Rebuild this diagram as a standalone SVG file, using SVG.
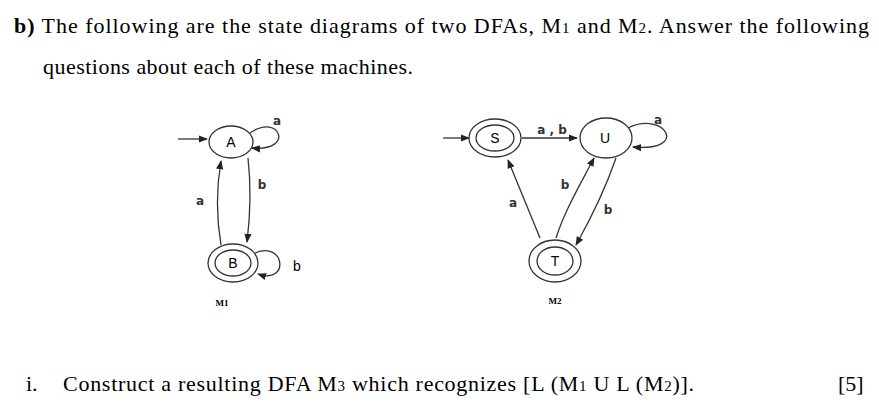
<svg xmlns="http://www.w3.org/2000/svg" width="879" height="410" viewBox="0 0 879 410">
<style>
.t{font-family:"Liberation Serif",serif;font-size:22px;fill:#000}
.s{font-family:"Liberation Sans",sans-serif;font-size:14px;fill:#000}
.l{font-family:"DejaVu Sans",sans-serif;font-size:12px;font-weight:bold;fill:#333}
.st{fill:#fff;stroke:#333;stroke-width:1.3}
.e{fill:none;stroke:#333;stroke-width:1.3;marker-end:url(#ar)}
</style>
<defs><marker id="ar" viewBox="0 0 10 10" refX="9" refY="5" markerWidth="7" markerHeight="7" orient="auto"><path d="M0,1 L10,5 L0,9 z" fill="#222"/></marker></defs>
<rect width="879" height="410" fill="#fff"/>
<text class="t" x="14" y="33" textLength="855" lengthAdjust="spacing"><tspan font-weight="bold">b)</tspan> The following are the state diagrams of two DFAs, M<tspan font-size="15">1</tspan> and M<tspan font-size="15">2</tspan>. Answer the following</text>
<text class="t" x="43" y="74" textLength="370" lengthAdjust="spacing">questions about each of these machines.</text>
<text class="t" x="26" y="391">i.</text>
<text class="t" x="63" y="391" textLength="631" lengthAdjust="spacing">Construct a resulting DFA M<tspan font-size="15">3</tspan> which recognizes [L (M<tspan font-size="15">1</tspan> U L (M<tspan font-size="15">2</tspan>)].</text>
<text class="t" x="838" y="391">[5]</text>
<g id="connectors">
<path class="e" d="M178,139 L207,139"/>
<path class="e" d="M250,133 C280,112 295,152 252,148"/>
<path class="e" d="M248,158 C251,185 251,210 247,242"/>
<path class="e" d="M221,245 C216,215 216,190 221,161"/>
<path class="e" d="M255,253 C285,240 290,285 258,274"/>
<path class="e" d="M443,138 L469,138"/>
<path class="e" d="M522,138 L577,138"/>
<path class="e" d="M628,128 C665,110 690,152 633,147"/>
<path class="e" d="M540,238 L508,160"/>
<path class="e" d="M556,238 C565,210 580,185 594,158"/>
<path class="e" d="M616,158 C605,190 590,220 576,245"/>
</g>
<g id="A"><ellipse class="st" cx="231" cy="142" rx="22" ry="16"/><text class="s" x="231" y="147" text-anchor="middle">A</text></g>
<g id="B"><ellipse class="st" cx="233" cy="263" rx="25" ry="19"/><ellipse class="st" cx="233" cy="263" rx="18" ry="13"/><text class="s" x="233" y="268" text-anchor="middle">B</text></g>
<g id="S"><ellipse class="st" cx="495" cy="138" rx="26" ry="19"/><ellipse class="st" cx="495" cy="138" rx="19" ry="13"/><text class="s" x="495" y="143" text-anchor="middle">S</text></g>
<g id="U"><ellipse class="st" cx="606" cy="138" rx="26" ry="20"/><text class="s" x="605" y="143" text-anchor="middle">U</text></g>
<g id="T"><ellipse class="st" cx="555" cy="261" rx="26" ry="21"/><ellipse class="st" cx="555" cy="261" rx="18" ry="14"/><text class="s" x="555" y="266" text-anchor="middle">T</text></g>
<g id="labels">
<text class="l" x="277" y="125" text-anchor="middle">a</text>
<text class="l" x="262" y="189" text-anchor="middle">b</text>
<text class="l" x="200" y="205" text-anchor="middle">a</text>
<text class="s" x="297" y="271" text-anchor="middle" font-size="16">b</text>
<text class="l" x="552" y="134" text-anchor="middle">a , b</text>
<text class="l" x="658" y="124" text-anchor="middle">a</text>
<text class="l" x="513" y="207" text-anchor="middle">a</text>
<text class="l" x="565" y="189" text-anchor="middle">b</text>
<text class="l" x="608" y="214" text-anchor="middle">b</text>
<text x="222" y="306" font-family="Liberation Serif,serif" font-size="9" font-weight="bold" text-anchor="middle">M1</text>
<text x="555" y="304" font-family="Liberation Serif,serif" font-size="9" font-weight="bold" text-anchor="middle">M2</text>
</g>
</svg>
